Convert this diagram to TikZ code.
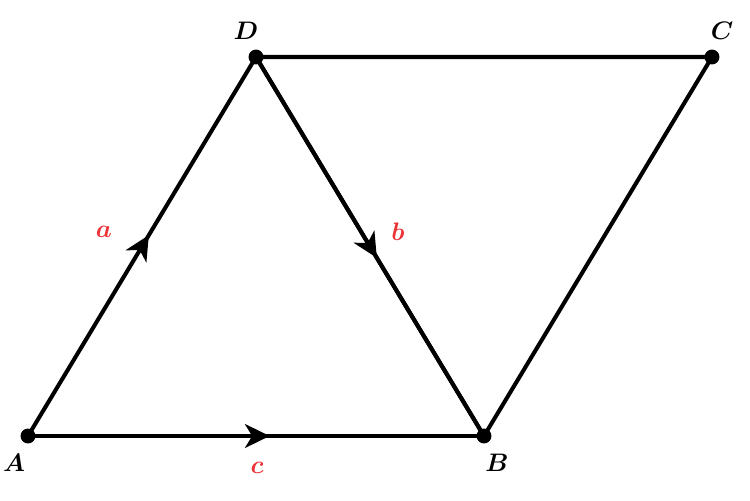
\documentclass[tikz,border=0pt]{standalone}
\usepackage{amsmath,bm}
\usetikzlibrary{arrows.meta,decorations.markings}
\definecolor{lblred}{RGB}{235,50,55}
\begin{document}
\begin{tikzpicture}[x=0.02cm,y=-0.02cm,
  edge/.style={line width=2.3pt},
  midarrow/.style={postaction={decorate},decoration={markings,mark=at position 0.53 with {\arrow{Stealth[length=14pt,width=13.5pt,inset=4pt]}}}},
  dot/.style={circle,fill=black,inner sep=0pt,minimum size=8.5pt},
  ptlabel/.style={font=\Large},
  vlabel/.style={font=\Large,text=lblred}]
\useasboundingbox (0,0) rectangle (750,500);
\node[dot] (A) at (28,436) {};
\node[dot] (B) at (484,436) {};
\node[dot] (D) at (256,57) {};
\node[dot] (C) at (712,57) {};
\draw[edge] (D.center) -- (C.center) -- (B.center);
\draw[edge] (D.center) -- (B.center);
\draw[edge,midarrow] (A.center) -- (D.center);
\draw[edge,midarrow] (D.center) -- (B.center);
\draw[edge,midarrow] (A.center) -- (B.center);
\node[ptlabel] (lA) at (14,463) {$\bm{A}$};
\node[ptlabel] (lB) at (497,463) {$\bm{B}$};
\node[ptlabel] (lD) at (246,31) {$\bm{D}$};
\node[ptlabel] (lC) at (722,31) {$\bm{C}$};
\node[vlabel] (la) at (104,232) {$\bm{a}$};
\node[vlabel] (lb) at (398,232) {$\bm{b}$};
\node[vlabel] (lc) at (257,468) {$\bm{c}$};
\end{tikzpicture}
\end{document}
